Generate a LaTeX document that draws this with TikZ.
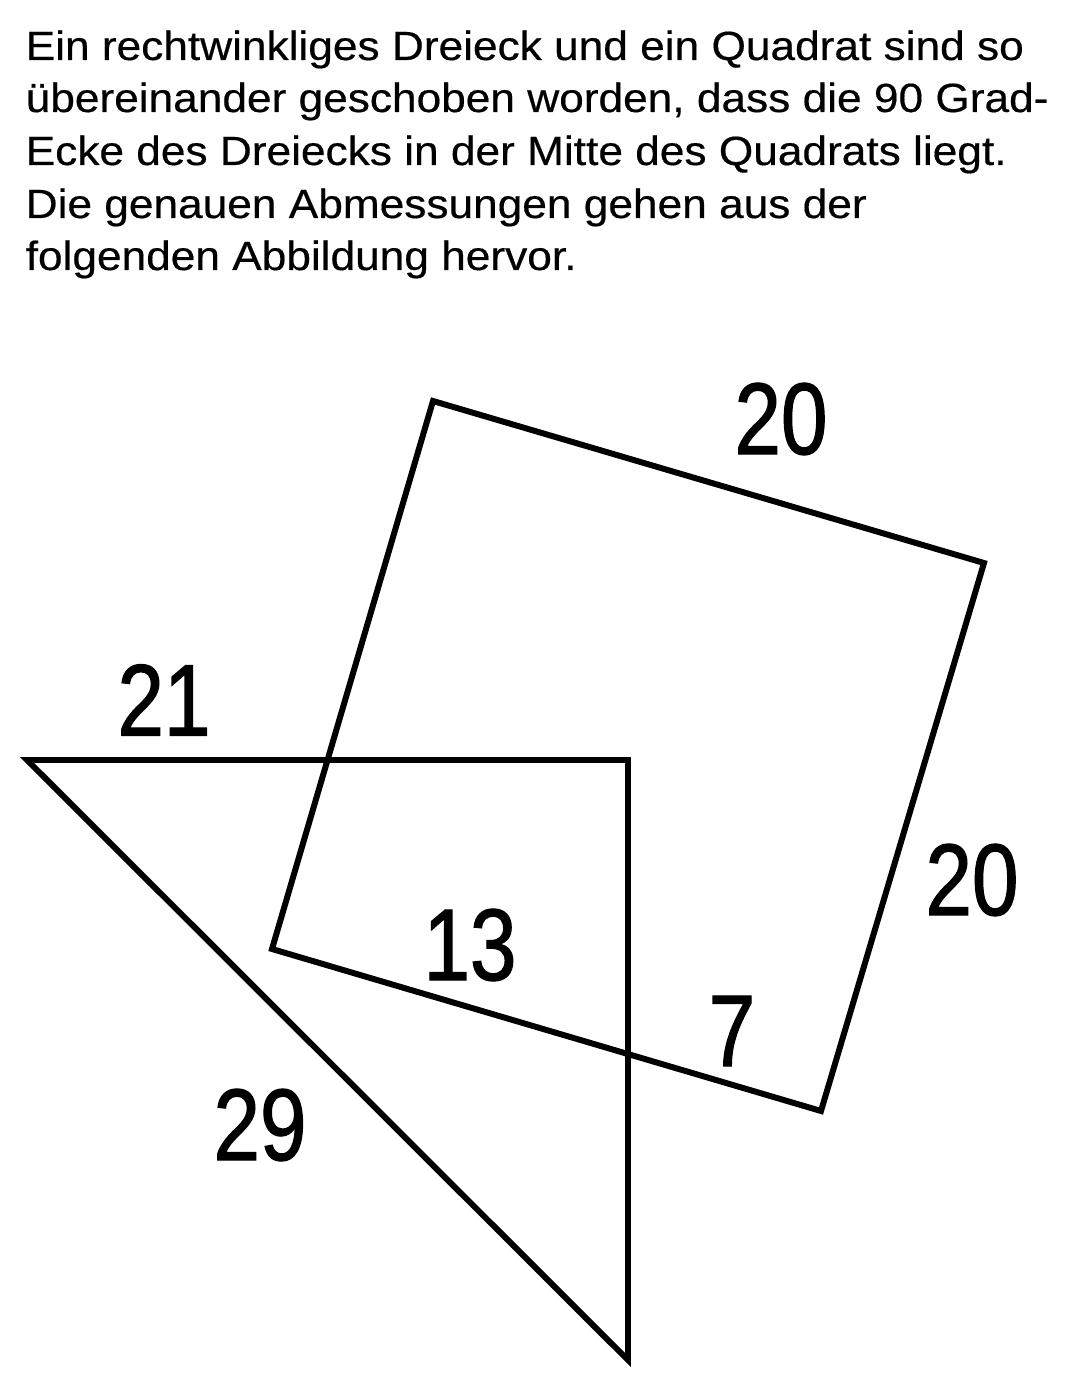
\documentclass[tikz,border=0pt]{standalone}
\usepackage{fontspec}
\setmainfont[FakeStretch=1.085, FakeBold=0.4]{Liberation Sans}
\newfontfamily\numfont[FakeStretch=0.82, FakeBold=1.2]{Liberation Sans}
\tikzset{
    txt/.style={anchor=base west, inner sep=0pt, font=\fontsize{11.6}{14}\selectfont},
    num/.style={inner sep=0pt, font=\numfont\fontsize{29}{30}\selectfont},
    edge/.style={line width=1.7pt, line join=miter}
}
\begin{document}
\begin{tikzpicture}
        \useasboundingbox (0, 0) rectangle (10.8, 13.93);
        % text above the figure
        \node[txt] (l1) at (0.25, 13.33) {Ein rechtwinkliges Dreieck und ein Quadrat sind so};
        \node[txt] (l2) at (0.25, 12.81) {übereinander geschoben worden, dass die 90 Grad-};
        \node[txt] (l3) at (0.25, 12.28) {Ecke des Dreiecks in der Mitte des Quadrats liegt.};
        \node[txt] (l4) at (0.25, 11.75) {Die genauen Abmessungen gehen aus der};
        \node[txt] (l5) at (0.25, 11.23) {folgenden Abbildung hervor.};
        % square
        \coordinate (qa) at (4.33, 9.92);
        \coordinate (qb) at (9.84, 8.30);
        \coordinate (qc) at (8.21, 2.82);
        \coordinate (qd) at (2.72, 4.44);
        \draw[edge] (qa) -- (qb) -- (qc) -- (qd) -- cycle;
        % triangle
        \coordinate (tl) at (0.27, 6.33);
        \coordinate (tr) at (6.28, 6.33);
        \coordinate (tb) at (6.28, 0.33);
        \draw[edge] (tl) -- (tr) -- (tb) -- cycle;
        % lengths
        \node[num] (sq top) at (7.81, 9.74) {20};
        \node[num] (sq right) at (9.72, 5.13) {20};
        \node[num] (tri top) at (1.64, 6.93) {21};
        \node[num] (tri hyp) at (2.60, 2.68) {29};
        \node[num] (part a) at (4.70, 4.48) {13};
        \node[num] (part b) at (7.32, 3.62) {7};
    \end{tikzpicture}
\end{document}
